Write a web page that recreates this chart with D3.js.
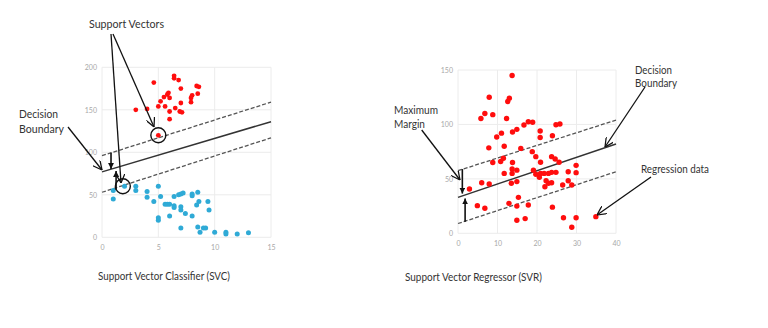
<!DOCTYPE html>
<html><head><meta charset="utf-8">
<script src="https://cdn.jsdelivr.net/npm/d3@7"></script>
<style>
html,body{margin:0;padding:0;background:#fff;}
svg{display:block;}
text{font-family:Lato,"Open Sans",sans-serif;}
</style></head>
<body>
<svg id="c" width="768" height="328"></svg>
<script>
// ---------- DATA ----------
const svcXTicks = [0, 5, 10, 15];
const svcYTicks = [0, 50, 100, 150, 200];
const svrXTicks = [0, 10, 20, 30, 40];
const svrYTicks = [0, 50, 100, 150];

const svcRed = [[4.6,182],[3.0,150],[4.0,151],[5.0,154],[5.2,160],[5.5,165],[5.6,154],[5.8,168],[5.9,170],[6.0,164],[6.0,148],[6.0,139],[6.4,190],[6.4,187],[6.8,185],[7.0,175],[6.5,152],[7.0,158],[6.9,148],[7.1,147],[8.0,167],[7.9,164],[7.9,159],[8.4,178],[8.6,177],[8.5,169],[5.0,120]];
const svcBlue = [[1.0,55],[1.0,45],[2.0,60],[3.0,60],[3.0,55],[4.0,54],[4.0,47],[4.6,42],[5.0,60],[5.2,48],[5.0,23],[5.0,20],[5.6,39],[5.8,39],[6.0,39],[6.0,25],[6.4,48],[6.4,37],[6.4,35],[6.8,50],[7.0,51],[7.2,52],[7.0,36],[7.0,32],[7.0,11],[7.4,28],[8.0,51],[8.0,49],[8.0,25],[8.5,53],[8.6,42],[8.4,38],[8.5,12],[8.7,6],[9.0,11],[9.2,11],[9.4,42],[9.5,32],[10.0,6],[11.0,6],[11.0,4],[12.0,4],[13.0,5.5]];
const svcSupport = [[5.0,120],[1.85,60]];
const svcBoundary = [[0,77],[15,136]];
const svcUpper = [[0,96],[15,159]];
const svcLower = [[0,53],[15,117]];

const svrPoints = [[13.7,145],[7.9,125],[13,124],[12.6,121],[6.8,110],[5.8,105.5],[8.8,109],[12.3,105.5],[11,92],[9.8,88.5],[13.8,93],[14.9,95.5],[16.7,99.5],[17.8,102.5],[18.9,102],[7.8,78.5],[11.7,80],[15.9,78],[8.8,65],[10.8,66],[11.5,69],[13.8,65],[11.7,55],[13.7,59],[14.9,58],[13.7,55],[13.5,46],[14.9,47.5],[6,46.5],[7.9,45.3],[2.9,40.7],[4.9,25.4],[6.8,23],[12.9,27.5],[15.3,33],[14.9,25],[14.9,12],[17,13.5],[17.8,26],[20.8,94],[20.8,88],[23.9,89.6],[24.8,99.7],[25.8,100.4],[18.8,75],[19.7,70.4],[20.9,65.2],[23.7,70.4],[24.6,68.2],[25.6,65.2],[29.9,62.4],[29.9,55.7],[27.9,56.6],[27.9,48.3],[28.8,44.4],[26.5,44.4],[19.1,58],[19.7,54.2],[20.6,51.4],[20.9,55],[21.8,55],[22.9,55],[23.7,56],[24.8,56],[22.3,48.3],[22.9,46],[23.7,46.5],[22,42.8],[23.9,24],[26.7,14.3],[29.9,14.3],[28.8,5.5],[34.9,15.3]];
const svrBoundary = [[0,33],[40,82]];
const svrUpper = [[0,57.5],[40,104]];
const svrLower = [[0,9],[40,56.5]];

const titles = ["Support Vector Classifier (SVC)", "Support Vector Regressor (SVR)"];

// ---------- DRAW ----------
const svg = d3.select("#c");
const defs = svg.append("defs");
defs.append("marker").attr("id","open").attr("viewBox","0 0 10 10").attr("refX",10).attr("refY",5)
  .attr("markerWidth",9).attr("markerHeight",9).attr("markerUnits","userSpaceOnUse").attr("orient","auto")
  .append("path").attr("d","M0,0 L10,5 L0,10").attr("fill","none").attr("stroke","#111").attr("stroke-width",1.4);
defs.append("marker").attr("id","solid").attr("viewBox","0 0 10 10").attr("refX",10).attr("refY",5)
  .attr("markerWidth",6).attr("markerHeight",6).attr("markerUnits","userSpaceOnUse").attr("orient","auto")
  .append("path").attr("d","M0,0 L10,5 L0,10 Z").attr("fill","#111");

function panel(cfg){
  const g = svg.append("g");
  const x = d3.scaleLinear().domain(cfg.xd).range(cfg.xr);
  const y = d3.scaleLinear().domain(cfg.yd).range(cfg.yr);
  g.append("g").selectAll("line").data(cfg.xt).join("line")
    .attr("x1",d=>x(d)).attr("x2",d=>x(d)).attr("y1",cfg.yr[0]).attr("y2",cfg.yr[1])
    .attr("stroke","#ececec").attr("stroke-width",1);
  g.append("g").selectAll("line").data(cfg.yt).join("line")
    .attr("y1",d=>y(d)).attr("y2",d=>y(d)).attr("x1",cfg.xr[0]).attr("x2",cfg.xr[1])
    .attr("stroke","#ececec").attr("stroke-width",1);
  const ax = g.append("g").attr("transform",`translate(0,${cfg.yr[0]+8})`)
    .call(d3.axisBottom(x).tickValues(cfg.xt).tickSize(0).tickPadding(0));
  const ay = g.append("g").attr("transform",`translate(${cfg.xr[0]-5},0)`)
    .call(d3.axisLeft(y).tickValues(cfg.yt).tickSize(0).tickPadding(0));
  [ax,ay].forEach(a=>{a.select(".domain").remove();
    a.selectAll("text").attr("fill","#a8a8a8").attr("font-size",7).attr("font-family","Lato,sans-serif");});
  const line = d3.line().x(d=>x(d[0])).y(d=>y(d[1]));
  g.append("path").attr("d",line(cfg.upper)).attr("stroke","#555").attr("stroke-width",1.3).attr("stroke-dasharray","4,2").attr("fill","none");
  g.append("path").attr("d",line(cfg.lower)).attr("stroke","#555").attr("stroke-width",1.3).attr("stroke-dasharray","4,2").attr("fill","none");
  g.append("path").attr("d",line(cfg.boundary)).attr("stroke","#333").attr("stroke-width",1.5).attr("fill","none");
  cfg.series.forEach(s=>{
    g.append("g").selectAll("circle").data(s.data).join("circle")
      .attr("cx",d=>x(d[0])).attr("cy",d=>y(d[1])).attr("r",s.r).attr("fill",s.color);
  });
  return {g,x,y};
}

function arrow(x1,y1,x2,y2,marker,w){
  svg.append("line").attr("x1",x1).attr("y1",y1).attr("x2",x2).attr("y2",y2)
    .attr("stroke","#111").attr("stroke-width",w||1.3).attr("marker-end",`url(#${marker})`);
}
// items: [text, x, baselineY, width]
function label(items){
  items.forEach(([s,x0,y0,w])=>{
    svg.append("text").attr("x",x0).attr("y",y0).attr("fill","#333").attr("font-size",11)
      .attr("textLength",w).attr("lengthAdjust","spacingAndGlyphs").text(s);
  });
}

// Left: SVC
const L = panel({xd:[0,15], xr:[102,271], yd:[0,200], yr:[237.3,67.3], xt:svcXTicks, yt:svcYTicks,
  upper:svcUpper, lower:svcLower, boundary:svcBoundary,
  series:[{data:svcRed,color:"#ff0d0d",r:2.4},{data:svcBlue,color:"#2faad6",r:2.5}]});
L.g.append("g").selectAll("circle").data(svcSupport).join("circle")
  .attr("cx",d=>L.x(d[0])).attr("cy",d=>L.y(d[1])).attr("r",7.5)
  .attr("fill","none").attr("stroke","#111").attr("stroke-width",1.4);
arrow(L.x(0.8), L.y(99.5), L.x(0.8), L.y(80.5), "solid", 1.6);
arrow(L.x(1.25), L.y(56), L.x(1.25), L.y(78), "solid", 1.6);
arrow(113, 34, 154, 127, "open");
arrow(111, 34, 121, 183, "open");
arrow(68, 127, 102, 170, "open");
label([["Support Vectors",89,28,75],["Decision",19,118,39],["Boundary",19,133,45]]);

// Right: SVR
const R = panel({xd:[0,40], xr:[458,616], yd:[0,150], yr:[233.3,70], xt:svrXTicks, yt:svrYTicks,
  upper:svrUpper, lower:svrLower, boundary:svrBoundary,
  series:[{data:svrPoints,color:"#ff0d0d",r:2.7}]});
arrow(R.x(1.1), R.y(59), R.x(1.1), R.y(36.5), "solid", 1.6);
arrow(R.x(1.8), R.y(10.5), R.x(1.8), R.y(32), "solid", 1.6);
arrow(421.7, 130, 460, 180, "open");
arrow(645, 87, 605, 147, "open");
arrow(651, 177, 597, 215, "open");
label([["Maximum",394,114,44],["Margin",394,127.5,31],["Decision",635,74,37],["Boundary",635,87,42],["Regression data",641,173,68]]);

// Titles
label([[titles[0],98,280,132],[titles[1],405,281,137]]);
</script>
</body></html>
